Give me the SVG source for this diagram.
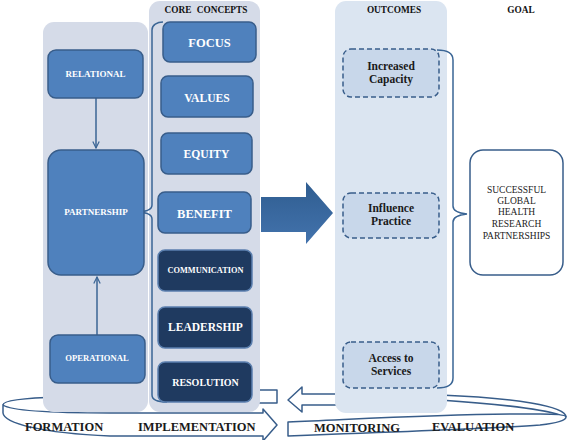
<svg xmlns="http://www.w3.org/2000/svg" width="567" height="440" viewBox="0 0 567 440">
<defs>
<style>
.panel{fill:#d5dbe8;stroke:none}
.opanel{fill:#dbe5f1;stroke:none}
.node rect{fill:#4f81bd;stroke:#385d8a;stroke-width:1.5}
.dark rect{fill:#1f3a60;stroke:#5b7fae;stroke-width:1.5}
.out rect{fill:#c8d7ea;stroke:#385d8a;stroke-width:1.5;stroke-dasharray:5 3}
text{font-family:"Liberation Serif","Times New Roman",serif}
.nt{font-weight:bold;fill:#ffffff;text-anchor:middle}
.ot{font-weight:bold;fill:#1a1a1a;text-anchor:middle;font-size:11.5px}
.hd{font-weight:bold;fill:#111;text-anchor:middle;font-size:9.3px}
.bt{font-weight:bold;fill:#1a1a1a;font-size:12.5px}
.gt{fill:#222;text-anchor:middle;font-size:9.5px}
.band{fill:#ffffff;stroke:#385d8a;stroke-width:1.5;stroke-linejoin:round}
.bl{fill:none;stroke:#385d8a;stroke-width:1.5}
.con{fill:none;stroke:#3a6595;stroke-width:1.5}
</style>
<marker id="ah" viewBox="0 0 10 10" refX="9" refY="5" markerWidth="8" markerHeight="8" markerUnits="userSpaceOnUse" orient="auto">
<path d="M1,1 L9,5 L1,9" fill="none" stroke="#3a6595" stroke-width="1.5"/>
</marker>
<linearGradient id="ag" x1="0" y1="0" x2="0" y2="1">
<stop offset="0" stop-color="#2f5d90"/>
<stop offset="1" stop-color="#4373ad"/>
</linearGradient>
</defs>
<rect width="567" height="440" fill="#ffffff"/>

<g id="cycle-band">
<path class="bl" d="M60,397 C20,398 3,401 3,405"/>
<path class="band" d="M250,390 L277,390 L277,403 L250,403"/>
<path class="band" d="M345,394 L302,394 L302,387 L288,400 L302,412 L302,405 L345,405 Z"/>
<path class="bl" d="M440,395 C515,398 566,406 566,417"/>
<path class="bl" d="M440,400 C500,404 545,410 560,415"/>
<path class="band" d="M3,405 L3,413 C4,423 40,433 110,436 L263,436 L263,441 L277,425 L263,409 L263,413 L110,413 C50,413 10,410 3,405 Z"/>
<path class="band" d="M288,422 L288,436 C400,432 500,428 540,425 C558,423 566,420 566,417 C566,415 555,414 540,414 C460,413 380,418 288,422 Z"/>
</g>

<g id="panels">
<rect class="panel" x="43" y="22" width="105" height="390" rx="11"/>
<rect class="panel" x="149" y="1" width="111" height="411" rx="11"/>
<rect class="opanel" x="335" y="1" width="112" height="412" rx="11"/>
</g>

<g id="headers">
<text class="hd" x="206" y="13" style="word-spacing:3px">CORE CONCEPTS</text>
<text class="hd" x="394" y="13">OUTCOMES</text>
<text class="hd" x="521" y="13">GOAL</text>
</g>

<g id="connectors">
<path class="con" d="M96,98 L96,148" marker-end="url(#ah)"/>
<path class="con" d="M97,335 L97,277" marker-end="url(#ah)"/>
<path class="con" d="M163,22 C157,22 152,25 152,30 L152,205 C152,209 148,212 135,212 C148,212 152,215 152,219 L152,395 C152,400 157,402 167,402"/>
<path class="con" d="M437,50 C448,50 453,53 453,60 L453,206 C453,210 457,213 467,214 C457,215 453,218 453,222 L453,378 C453,385 448,388 437,388"/>
<path d="M261,197 L306,197 L306,182 L333,213 L306,244 L306,232 L261,232 Z" fill="url(#ag)"/>
</g>

<g id="relational" class="node"><rect x="48" y="50" width="95" height="48" rx="8"/><text class="nt" x="95.5" y="77" font-size="9px">RELATIONAL</text></g>
<g id="partnership" class="node"><rect x="48" y="150" width="96" height="125" rx="13"/><text class="nt" x="96" y="215" font-size="9px">PARTNERSHIP</text></g>
<g id="operational" class="node"><rect x="50" y="335" width="95" height="48" rx="8"/><text class="nt" x="97" y="361" font-size="8.6px">OPERATIONAL</text></g>

<g id="focus" class="node"><rect x="163" y="22" width="93" height="40" rx="7"/><text class="nt" x="209.5" y="47" font-size="12.5px">FOCUS</text></g>
<g id="values" class="node"><rect x="161" y="76" width="92" height="41" rx="7"/><text class="nt" x="207" y="102" font-size="11.6px">VALUES</text></g>
<g id="equity" class="node"><rect x="161" y="133" width="91" height="41" rx="7"/><text class="nt" x="206.5" y="158" font-size="11.7px">EQUITY</text></g>
<g id="benefit" class="node"><rect x="158" y="192" width="93" height="41" rx="7"/><text class="nt" x="204.5" y="218" font-size="12.5px">BENEFIT</text></g>
<g id="communication" class="dark"><rect x="158" y="250" width="94" height="41" rx="7"/><text class="nt" x="205.5" y="273" font-size="8.3px">COMMUNICATION</text></g>
<g id="leadership" class="dark"><rect x="158" y="307" width="94" height="41" rx="7"/><text class="nt" x="205.5" y="331" font-size="11.5px">LEADERSHIP</text></g>
<g id="resolution" class="dark"><rect x="158" y="362" width="94" height="40" rx="7"/><text class="nt" x="205.5" y="386" font-size="10px">RESOLUTION</text></g>

<g id="increased-capacity" class="out"><rect x="343" y="49" width="96" height="48" rx="8"/><text class="ot" x="391" y="70">Increased</text><text class="ot" x="391" y="83">Capacity</text></g>
<g id="influence-practice" class="out"><rect x="343" y="193" width="96" height="45" rx="8"/><text class="ot" x="391" y="212">Influence</text><text class="ot" x="391" y="225">Practice</text></g>
<g id="access-services" class="out"><rect x="343" y="342" width="96" height="46" rx="8"/><text class="ot" x="391" y="362">Access to</text><text class="ot" x="391" y="375">Services</text></g>

<g id="goal"><rect x="470" y="150" width="93" height="125" rx="13" fill="#ffffff" stroke="#385d8a" stroke-width="1.5"/>
<text class="gt" x="516.5" y="193">SUCCESSFUL</text>
<text class="gt" x="516.5" y="204">GLOBAL</text>
<text class="gt" x="516.5" y="215">HEALTH</text>
<text class="gt" x="516.5" y="227">RESEARCH</text>
<text class="gt" x="516.5" y="239">PARTNERSHIPS</text>
</g>

<g id="band-labels">
<text class="bt" x="25" y="431">FORMATION</text>
<text class="bt" x="138" y="431">IMPLEMENTATION</text>
<text class="bt" x="314" y="432">MONITORING</text>
<text class="bt" x="432" y="431">EVALUATION</text>
</g>
</svg>
